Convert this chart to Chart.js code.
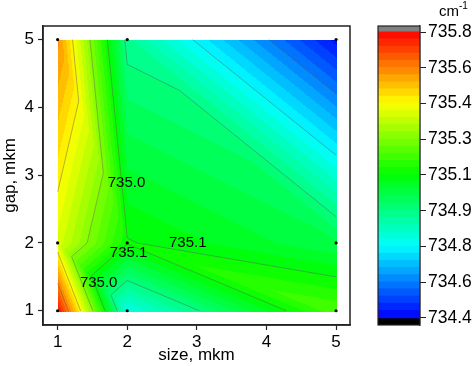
<!DOCTYPE html>
<html>
<head>
<meta charset="utf-8">
<script src="https://cdn.jsdelivr.net/npm/chart.js"></script>
<style>
  body { margin: 0; background: #fff; }
  #wrap { position: relative; width: 474px; height: 366px; }
  canvas { position: absolute; top: 0; }
</style>
</head>
<body>
<div id="wrap">
  <canvas id="main" width="354" height="366" style="left:0"></canvas>
  <canvas id="bar" width="120" height="366" style="left:354px"></canvas>
</div>
<script>
// measured grid: size (x) and gap (y), value in cm-1
var sizeVals = [1, 2, 5];
var gapVals = [1, 2, 5];
var zRows = [            // one row per gap value, columns follow sizeVals
  [735.78, 734.78, 735.20],
  [735.40, 735.105, 735.00],
  [735.60, 734.90, 734.42]
];
var axisTicks = [1, 2, 3, 4, 5];
var levelMin = 734.4, levelMax = 735.8, nBands = 40;
var lineLevels = [734.575, 734.75, 734.925, 735.1, 735.275, 735.45, 735.625];
var labelText = ['735.0', '735.1', '735.0', '735.1'];
var labelX = [1.99, 2.02, 1.59, 2.87];
var labelY = [2.88, 1.85, 1.41, 2.0];
var cbTicks = [734.4, 734.575, 734.75, 734.925, 735.1, 735.275, 735.45, 735.625, 735.8];
var cbTickText = ['734.4', '734.6', '734.8', '734.9', '735.1', '735.3', '735.4', '735.6', '735.8'];

Chart.defaults.font.family = "'Liberation Sans', Arial, sans-serif";
Chart.defaults.color = '#000';

function rainbow(t) {
  if (t < 0.25) return [0, Math.round(t / 0.25 * 255), 255];
  if (t < 0.5) return [0, 255, Math.round((1 - (t - 0.25) / 0.25) * 255)];
  if (t < 0.75) return [Math.round((t - 0.5) / 0.25 * 255), 255, 0];
  return [255, Math.round((1 - (t - 0.75) / 0.25) * 255), 0];
}
function bandColor(v) {
  if (v > levelMax) return [128, 128, 128];
  if (v < levelMin) return [0, 0, 0];
  var k = Math.min(nBands - 1, Math.floor((v - levelMin) / (levelMax - levelMin) * nBands));
  return rainbow((k + 0.5) / nBands);
}

// triangles: each cell split along its top-left -> bottom-right diagonal
var tris = [];
for (var j = 0; j < gapVals.length - 1; j++) {
  for (var i = 0; i < sizeVals.length - 1; i++) {
    var p00 = [sizeVals[i], gapVals[j], zRows[j][i]];
    var p10 = [sizeVals[i + 1], gapVals[j], zRows[j][i + 1]];
    var p01 = [sizeVals[i], gapVals[j + 1], zRows[j + 1][i]];
    var p11 = [sizeVals[i + 1], gapVals[j + 1], zRows[j + 1][i + 1]];
    tris.push([p00, p10, p01]);
    tris.push([p11, p01, p10]);
  }
}

function valueAt(x, y) {
  var i = x < sizeVals[1] ? 0 : 1;
  var j = y < gapVals[1] ? 0 : 1;
  var x0 = sizeVals[i], x1 = sizeVals[i + 1], y0 = gapVals[j], y1 = gapVals[j + 1];
  var u = (x - x0) / (x1 - x0), v = (y - y0) / (y1 - y0);
  var z00 = zRows[j][i], z10 = zRows[j][i + 1], z01 = zRows[j + 1][i], z11 = zRows[j + 1][i + 1];
  if (u + v <= 1) return z00 + u * (z10 - z00) + v * (z01 - z00);
  return z11 + (1 - u) * (z01 - z11) + (1 - v) * (z10 - z11);
}

var contourPlugin = {
  id: 'contour',
  beforeDatasetsDraw: function (chart) {
    var ctx = chart.ctx, xs = chart.scales.x, ys = chart.scales.y;
    var left = Math.round(xs.getPixelForValue(sizeVals[0]));
    var right = Math.round(xs.getPixelForValue(sizeVals[sizeVals.length - 1]));
    var top = Math.round(ys.getPixelForValue(gapVals[gapVals.length - 1]));
    var bottom = Math.round(ys.getPixelForValue(gapVals[0]));
    var w = right - left + 1, h = bottom - top + 1;
    var img = ctx.createImageData(w, h);
    for (var py = 0; py < h; py++) {
      var gy = Math.min(gapVals[2], Math.max(gapVals[0], ys.getValueForPixel(top + py)));
      for (var px = 0; px < w; px++) {
        var gx = Math.min(sizeVals[2], Math.max(sizeVals[0], xs.getValueForPixel(left + px)));
        var c = bandColor(valueAt(gx, gy));
        var o = (py * w + px) * 4;
        img.data[o] = c[0]; img.data[o + 1] = c[1]; img.data[o + 2] = c[2]; img.data[o + 3] = 255;
      }
    }
    ctx.putImageData(img, left, top);

    // contour lines
    ctx.save();
    ctx.strokeStyle = 'rgba(90,90,90,0.55)';
    ctx.lineWidth = 0.8;
    tris.forEach(function (t) {
      lineLevels.forEach(function (L) {
        var pts = [];
        for (var e = 0; e < 3; e++) {
          var a = t[e], b = t[(e + 1) % 3];
          if ((a[2] - L) * (b[2] - L) < 0) {
            var f = (L - a[2]) / (b[2] - a[2]);
            pts.push([a[0] + f * (b[0] - a[0]), a[1] + f * (b[1] - a[1])]);
          }
        }
        if (pts.length === 2) {
          ctx.beginPath();
          ctx.moveTo(xs.getPixelForValue(pts[0][0]), ys.getPixelForValue(pts[0][1]));
          ctx.lineTo(xs.getPixelForValue(pts[1][0]), ys.getPixelForValue(pts[1][1]));
          ctx.stroke();
        }
      });
    });
    ctx.restore();

    // contour labels
    ctx.save();
    ctx.fillStyle = '#000';
    ctx.font = "15px 'Liberation Sans', Arial, sans-serif";
    ctx.textAlign = 'center';
    ctx.textBaseline = 'middle';
    labelText.forEach(function (s, k) {
      ctx.fillText(s, xs.getPixelForValue(labelX[k]), ys.getPixelForValue(labelY[k]));
    });
    ctx.restore();
  },
  afterDraw: function (chart) {
    var a = chart.chartArea, ctx = chart.ctx;
    ctx.save();
    ctx.strokeStyle = '#222';
    ctx.lineWidth = 1.5;
    ctx.strokeRect(a.left, a.top, a.right - a.left, a.bottom - a.top);
    ctx.restore();
  }
};

var points = [];
gapVals.forEach(function (g, j) {
  sizeVals.forEach(function (s, i) { points.push({ x: s, y: g }); });
});

new Chart(document.getElementById('main'), {
  type: 'scatter',
  data: {
    datasets: [{
      data: points,
      pointRadius: 1.6,
      backgroundColor: '#000',
      borderWidth: 0
    }]
  },
  options: {
    responsive: false,
    animation: false,
    layout: { padding: { top: 26, right: 0, left: 0, bottom: 0 } },
    plugins: { legend: { display: false }, tooltip: { enabled: false } },
    scales: {
      x: {
        type: 'linear', min: 0.79, max: 5.2,
        afterBuildTicks: function (s) { s.ticks = axisTicks.map(function (v) { return { value: v }; }); },
        afterFit: function (s) { s.height = 41; },
        grid: { drawOnChartArea: false, tickLength: 5, color: '#222', tickWidth: 1.2 },
        border: { display: true, color: '#222', width: 1.5 },
        ticks: { font: { size: 17 }, padding: 2, maxRotation: 0 },
        title: { display: true, text: 'size, mkm', font: { size: 17 }, padding: 0 }
      },
      y: {
        type: 'linear', min: 0.79, max: 5.2,
        afterBuildTicks: function (s) { s.ticks = axisTicks.map(function (v) { return { value: v }; }); },
        afterFit: function (s) { s.width = 43; },
        grid: { drawOnChartArea: false, tickLength: 5, color: '#222', tickWidth: 1.2 },
        border: { display: true, color: '#222', width: 1.5 },
        ticks: { font: { size: 17 }, padding: 4 },
        title: { display: true, text: 'gap, mkm', font: { size: 17 }, padding: 0 }
      }
    }
  },
  plugins: [contourPlugin]
});

// colour bar
var cbStep = (levelMax - levelMin) / nBands;
var cbSets = [];
for (var k = 0; k < nBands; k++) {
  var c = rainbow((k + 0.5) / nBands);
  cbSets.push({
    data: [[levelMin + k * cbStep, levelMin + (k + 1) * cbStep + 0.002]],
    backgroundColor: 'rgb(' + c.join(',') + ')'
  });
}
cbSets.push({ data: [[levelMax, 735.83]], backgroundColor: 'rgb(128,128,128)' });
cbSets.push({ data: [[734.365, levelMin]], backgroundColor: '#000' });
cbSets.forEach(function (d) {
  d.grouped = false; d.barPercentage = 1; d.categoryPercentage = 1; d.borderWidth = 0;
});

var cbPlugin = {
  id: 'cbframe',
  afterDraw: function (chart) {
    var a = chart.chartArea, ctx = chart.ctx;
    ctx.save();
    ctx.strokeStyle = '#222';
    ctx.lineWidth = 1.2;
    ctx.strokeRect(a.left, a.top, a.right - a.left, a.bottom - a.top);
    ctx.fillStyle = '#000';
    ctx.textBaseline = 'alphabetic';
    ctx.font = "15px 'Liberation Sans', Arial, sans-serif";
    ctx.fillText('cm', 85, 16);
    ctx.font = "10px 'Liberation Sans', Arial, sans-serif";
    ctx.fillText('-1', 105, 9);
    ctx.restore();
  }
};

new Chart(document.getElementById('bar'), {
  type: 'bar',
  data: { labels: ['cm-1'], datasets: cbSets },
  options: {
    responsive: false,
    animation: false,
    layout: { padding: { top: 26, left: 24, right: 0, bottom: 41 } },
    plugins: { legend: { display: false }, tooltip: { enabled: false } },
    scales: {
      x: { display: false },
      y: {
        position: 'right', min: 734.365, max: 735.83,
        afterBuildTicks: function (s) { s.ticks = cbTicks.map(function (v) { return { value: v }; }); },
        afterFit: function (s) { s.width = 54; },
        grid: { drawOnChartArea: false, tickLength: 6, color: '#222' },
        border: { display: true, color: '#222', width: 1.2 },
        ticks: {
          font: { size: 17.5 }, padding: 2,
          callback: function (v, i) { return cbTickText[i]; }
        }
      }
    }
  },
  plugins: [cbPlugin]
});
</script>
</body>
</html>
